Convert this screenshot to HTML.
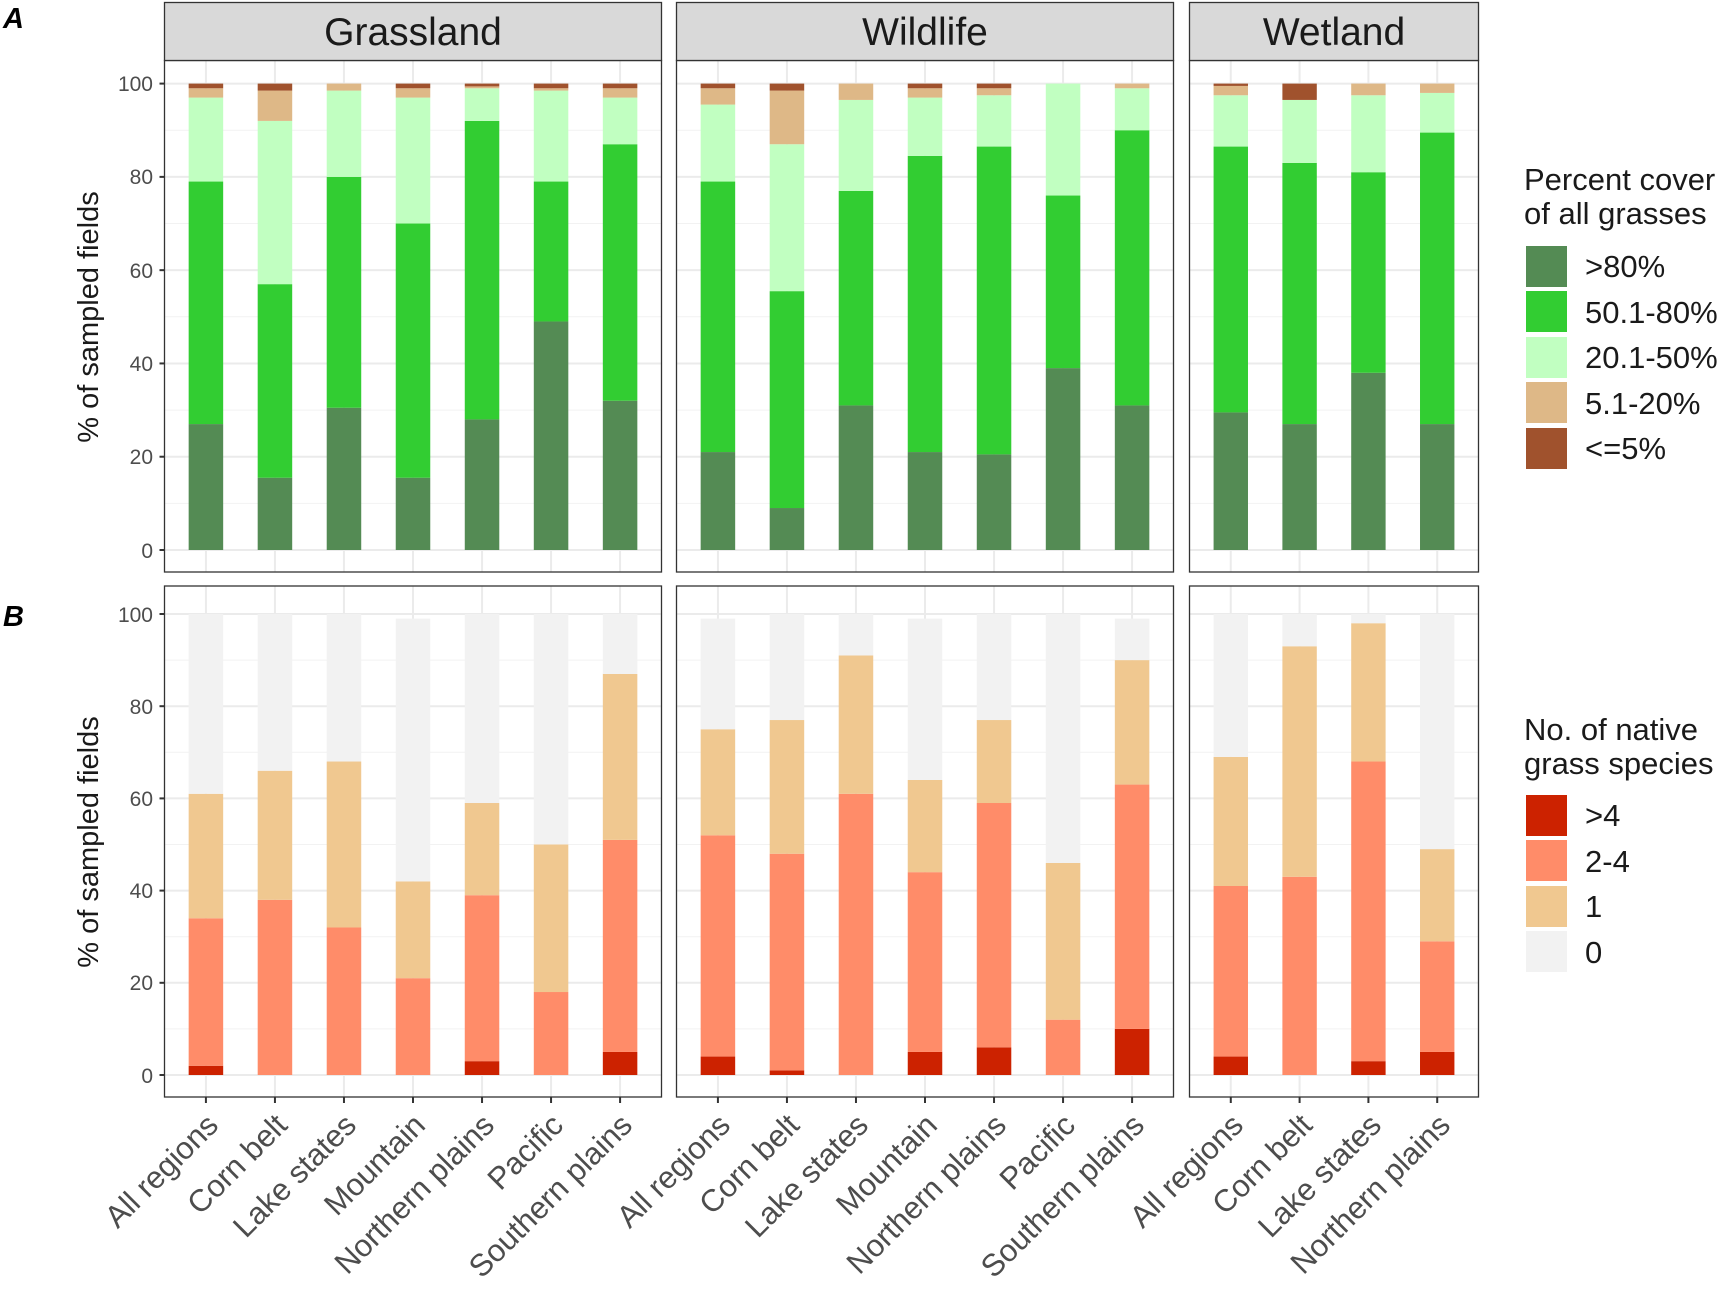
<!DOCTYPE html>
<html><head><meta charset="utf-8"><style>
html,body{margin:0;padding:0;background:#fff;}
svg{display:block;font-family:"Liberation Sans",Arial,sans-serif;}
</style></head><body>
<svg id="s" width="1725" height="1290" viewBox="0 0 1725 1290" xmlns="http://www.w3.org/2000/svg">
<rect width="1725" height="1290" fill="#fff"/>
<g id="g"></g>
<!-- strips -->
<rect x="164.5" y="2.5" width="497" height="58" fill="#D9D9D9" stroke="#333" stroke-width="1.3"/>
<rect x="676.5" y="2.5" width="497" height="58" fill="#D9D9D9" stroke="#333" stroke-width="1.3"/>
<rect x="1189.5" y="2.5" width="289" height="58" fill="#D9D9D9" stroke="#333" stroke-width="1.3"/>
<g font-size="39" fill="#1A1A1A" text-anchor="middle">
<text x="413" y="45">Grassland</text>
<text x="925" y="45">Wildlife</text>
<text x="1334" y="45">Wetland</text>
</g>
<g font-size="29" font-weight="bold" font-style="italic" fill="#000">
<text x="3" y="28">A</text>
<text x="3" y="626">B</text>
</g>
<!-- y tick labels -->
<g font-size="21" fill="#4D4D4D" text-anchor="end">
<text x="153" y="91">100</text><text x="153" y="184">80</text><text x="153" y="278">60</text><text x="153" y="371">40</text><text x="153" y="464">20</text><text x="153" y="558">0</text>
<text x="153" y="622">100</text><text x="153" y="714">80</text><text x="153" y="806">60</text><text x="153" y="898">40</text><text x="153" y="990">20</text><text x="153" y="1083">0</text>
</g>
<g font-size="29" fill="#1A1A1A" text-anchor="middle">
<text transform="translate(98,317) rotate(-90)">% of sampled fields</text>
<text transform="translate(98,842) rotate(-90)">% of sampled fields</text>
</g>
<!-- x labels -->
<g font-size="31" fill="#4D4D4D" text-anchor="end">
<text transform="translate(220,1127) rotate(-45)">All regions</text>
<text transform="translate(289,1127) rotate(-45)">Corn belt</text>
<text transform="translate(358,1127) rotate(-45)">Lake states</text>
<text transform="translate(427,1127) rotate(-45)">Mountain</text>
<text transform="translate(496,1127) rotate(-45)">Northern plains</text>
<text transform="translate(565,1127) rotate(-45)">Pacific</text>
<text transform="translate(634,1127) rotate(-45)">Southern plains</text>
<text transform="translate(732,1127) rotate(-45)">All regions</text>
<text transform="translate(801,1127) rotate(-45)">Corn belt</text>
<text transform="translate(870,1127) rotate(-45)">Lake states</text>
<text transform="translate(939,1127) rotate(-45)">Mountain</text>
<text transform="translate(1008,1127) rotate(-45)">Northern plains</text>
<text transform="translate(1077,1127) rotate(-45)">Pacific</text>
<text transform="translate(1146,1127) rotate(-45)">Southern plains</text>
<text transform="translate(1245,1127) rotate(-45)">All regions</text>
<text transform="translate(1314,1127) rotate(-45)">Corn belt</text>
<text transform="translate(1383,1127) rotate(-45)">Lake states</text>
<text transform="translate(1452,1127) rotate(-45)">Northern plains</text>
</g>
<!-- legends -->
<g font-size="31" fill="#1A1A1A">
<text x="1524" y="190">Percent cover</text>
<text x="1524" y="224">of all grasses</text>
<text x="1524" y="740">No. of native</text>
<text x="1524" y="774">grass species</text>
</g>
<rect x="1526" y="246" width="41" height="41" fill="#548B54"/>
<rect x="1526" y="291" width="41" height="41" fill="#32CD32"/>
<rect x="1526" y="337" width="41" height="41" fill="#C1FFC1"/>
<rect x="1526" y="382" width="41" height="41" fill="#DEB887"/>
<rect x="1526" y="428" width="41" height="41" fill="#A0522D"/>
<g font-size="31" fill="#1A1A1A">
<text x="1585" y="277">&gt;80%</text>
<text x="1585" y="323">50.1-80%</text>
<text x="1585" y="368">20.1-50%</text>
<text x="1585" y="414">5.1-20%</text>
<text x="1585" y="459">&lt;=5%</text>
</g>
<rect x="1526" y="795" width="41" height="41" fill="#CC2200"/>
<rect x="1526" y="840" width="41" height="41" fill="#FF8C69"/>
<rect x="1526" y="886" width="41" height="41" fill="#F0C890"/>
<rect x="1526" y="931" width="41" height="41" fill="#F2F2F2"/>
<g font-size="31" fill="#1A1A1A">
<text x="1585" y="826">&gt;4</text>
<text x="1585" y="872">2-4</text>
<text x="1585" y="917">1</text>
<text x="1585" y="963">0</text>
</g>
</svg>
<script>
var NS="http://www.w3.org/2000/svg",g=document.getElementById("g");
function el(t,a){var e=document.createElementNS(NS,t);for(var k in a)e.setAttribute(k,a[k]);g.appendChild(e);return e;}
var panels=[{x:164.5,w:497,n:7},{x:676.5,w:497,n:7},{x:1189.5,w:289,n:4}];
var rows=[{top:60.5,bot:572,y0:550,y100:83.6},{top:586,bot:1097,y0:1075,y100:614}];
var colA=["#548B54","#32CD32","#C1FFC1","#DEB887","#A0522D"];
var colB=["#CC2200","#FF8C69","#F0C890","#F2F2F2"];
var A=[
[[27,79,97,99,100],[15.5,57,92,98.5,100],[30.5,80,98.5,100,100],[15.5,70,97,99,100],[28,92,99,99.4,100],[49,79,98.5,99,100],[32,87,97,99,100]],
[[21,79,95.5,99,100],[9,55.5,87,98.5,100],[31,77,96.5,100,100],[21,84.5,97,99,100],[20.5,86.5,97.5,99,100],[39,76,100,100,100],[31,90,99,100,100]],
[[29.5,86.5,97.5,99.5,100],[27,83,96.5,96.5,100],[38,81,97.5,100,100],[27,89.5,98,100,100]]];
var B=[
[[2,34,61,100],[0,38,66,100],[0,32,68,100],[0,21,42,99],[3,39,59,100],[0,18,50,100],[5,51,87,100]],
[[4,52,75,99],[1,48,77,100],[0,61,91,100],[5,44,64,99],[6,59,77,100],[0,12,46,100],[10,63,90,99]],
[[4,41,69,100],[0,43,93,100],[3,68,98,100],[5,29,49,100]]];
for(var r=0;r<2;r++){var R=rows[r],u=(R.y0-R.y100)/100;
 for(var p=0;p<3;p++){var P=panels[p],bw=P.w/(P.n-1+1.2);
  el("rect",{x:P.x,y:R.top,width:P.w,height:R.bot-R.top,fill:"#fff"});
  for(var v=10;v<=100;v+=20)el("line",{x1:P.x,x2:P.x+P.w,y1:R.y0-v*u,y2:R.y0-v*u,stroke:"#F2F2F2","stroke-width":1});
  for(var v=0;v<=100;v+=20)el("line",{x1:P.x,x2:P.x+P.w,y1:R.y0-v*u,y2:R.y0-v*u,stroke:"#EBEBEB","stroke-width":2});
  for(var i=0;i<P.n;i++){var cx=P.x+bw*(0.6+i);
   el("line",{x1:cx,x2:cx,y1:R.top,y2:R.bot,stroke:"#EBEBEB","stroke-width":2});
   var d=(r==0?A:B)[p][i],c=(r==0?colA:colB),prev=0;
   for(var k=0;k<d.length;k++){var h=d[k]-prev;if(h>0)el("rect",{x:cx-bw*0.25,y:R.y0-d[k]*u,width:bw*0.5,height:h*u,fill:c[k]});prev=d[k];}
   if(r==1)el("line",{x1:cx,x2:cx,y1:R.bot,y2:R.bot+6,stroke:"#333","stroke-width":2});
  }
  el("rect",{x:P.x,y:R.top,width:P.w,height:R.bot-R.top,fill:"none",stroke:"#333","stroke-width":1.3});
  if(p==0)for(var v=0;v<=100;v+=20)el("line",{x1:P.x-5,x2:P.x,y1:R.y0-v*u,y2:R.y0-v*u,stroke:"#333","stroke-width":2});
 }}
</script>
</body></html>
